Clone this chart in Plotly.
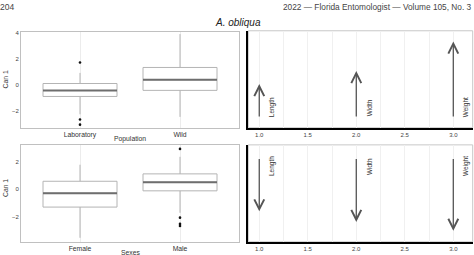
import plotly.graph_objects as go

# ---------------- data ----------------
pop_cats = ["Laboratory", "Wild"]
pop_q1 = [-0.92, -0.45]
pop_median = [-0.46, 0.37]
pop_q3 = [0.08, 1.32]
pop_low = [-2.3, -2.5]
pop_high = [0.9, 3.9]
pop_out_x = ["Laboratory", "Laboratory", "Laboratory"]
pop_out_y = [1.7, -2.7, -3.1]

sex_cats = ["Female", "Male"]
sex_q1 = [-1.29, -0.12]
sex_median = [-0.29, 0.5]
sex_q3 = [0.57, 1.1]
sex_low = [-3.5, -1.7]
sex_high = [1.76, 2.33]
sex_out_x = ["Male", "Male", "Male", "Male"]
sex_out_y = [2.9, -2.05, -2.5, -2.65]

vars_names = ["Length", "Width", "Weight"]
vars_x = [1.0, 2.0, 3.0]
pop_coef = [0.35, 0.485, 0.79]
sex_coef = [-0.556, -0.665, -0.757]

FONT = "Liberation Sans, Arial, sans-serif"
BOXLINE = "#b4b4b4"
MEDLINE = "#6e6e6e"

fig = go.Figure()


def add_box(cats, q1, med, q3, lo, hi, ox, oy, xa, ya):
    fig.add_trace(go.Box(x=cats, q1=q1, median=med, q3=q3, lowerfence=lo,
                         upperfence=hi, fillcolor="white",
                         line=dict(color=BOXLINE, width=1), width=0.74,
                         boxpoints=False, whiskerwidth=0, xaxis=xa, yaxis=ya,
                         showlegend=False, hoverinfo="skip"))
    fig.add_trace(go.Box(x=cats, q1=med, median=med, q3=med, lowerfence=med,
                         upperfence=med, fillcolor="rgba(0,0,0,0)",
                         line=dict(color=MEDLINE, width=2), width=0.74,
                         boxpoints=False, whiskerwidth=0, xaxis=xa, yaxis=ya,
                         showlegend=False, hoverinfo="skip"))
    fig.add_trace(go.Scatter(x=ox, y=oy, mode="markers",
                             marker=dict(color="#111", size=2.6),
                             xaxis=xa, yaxis=ya, showlegend=False,
                             hoverinfo="skip"))


add_box(pop_cats, pop_q1, pop_median, pop_q3, pop_low, pop_high,
        pop_out_x, pop_out_y, "x", "y")
add_box(sex_cats, sex_q1, sex_median, sex_q3, sex_low, sex_high,
        sex_out_x, sex_out_y, "x3", "y3")

# invisible traces to anchor the right-hand axes
fig.add_trace(go.Scatter(x=vars_x, y=[0, 0, 0], mode="markers",
                         marker=dict(opacity=0), xaxis="x2", yaxis="y2",
                         showlegend=False, hoverinfo="skip"))
fig.add_trace(go.Scatter(x=vars_x, y=[0, 0, 0], mode="markers",
                         marker=dict(opacity=0), xaxis="x4", yaxis="y4",
                         showlegend=False, hoverinfo="skip"))

annotations = []
for xa, ya, coefs, ly in (("x2", "y2", pop_coef, 0.11),
                          ("x4", "y4", sex_coef, -0.09)):
    for name, xv, c in zip(vars_names, vars_x, coefs):
        annotations.append(dict(x=xv, y=c, ax=xv, ay=0, xref=xa, yref=ya,
                                axref=xa, ayref=ya, text="", showarrow=True,
                                arrowhead=5, arrowsize=1.5, arrowwidth=1.3,
                                arrowcolor="#555"))
        annotations.append(dict(x=xv + 0.13, y=ly, xref=xa, yref=ya,
                                xanchor="center", yanchor="middle",
                                text=name, showarrow=False, textangle=-90,
                                font=dict(size=6.5, color="#333", family=FONT)))

lab_font = dict(size=6.8, color="#333", family=FONT)


def pann(x, y, text, font, xanchor="center", angle=0):
    return dict(x=x / 474, y=1 - y / 255, xref="paper", yref="paper",
                xanchor=xanchor, yanchor="middle", text=text,
                showarrow=False, font=font, textangle=angle)


annotations += [
    pann(130, 138, "Population", lab_font),
    pann(130, 252, "Sexes", lab_font),
    pann(5.5, 78.5, "Can 1", lab_font, angle=-90),
    pann(5.5, 188, "Can 1", lab_font, angle=-90),
    pann(238, 20.5, "<i>A. obliqua</i>",
         dict(size=10, color="#222", family=FONT)),
    pann(-2, 5, "204", dict(size=8.5, color="#444", family=FONT),
         xanchor="left"),
    pann(474, 5, "2022 — Florida Entomologist — Volume 105, No. 3",
         dict(size=8.3, color="#444", family=FONT), xanchor="right"),
]

shapes = []
for xr, yr in (("x2 domain", "y2 domain"), ("x4 domain", "y4 domain")):
    shapes.append(dict(type="rect", xref=xr, yref=yr, x0=0, x1=1, y0=0, y1=1,
                       line=dict(color="#c8c8c8", width=1), layer="below"))

tick_font = dict(size=6, color="#444", family=FONT)
left_x = dict(type="category", range=[-0.59, 1.59], showline=True,
              mirror=True, linecolor="#c0c0c0", linewidth=1, showgrid=True,
              gridcolor="#ececec", ticks="", zeroline=False,
              tickfont=dict(size=6.8, color="#333", family=FONT))
left_y = dict(showline=True, mirror=True, linecolor="#c0c0c0", linewidth=1,
              showgrid=False, zeroline=False, ticks="", tickfont=tick_font,
              dtick=2)
right_x = dict(range=[0.887, 3.2], tick0=1, dtick=0.5, showline=True,
               linecolor="black", linewidth=2, showgrid=True,
               gridcolor="#f0f0f0", ticks="",
               zeroline=False, tickformat=".1f", tickfont=tick_font,
               minor=dict(dtick=0.25, showgrid=True, gridcolor="#f0f0f0"))
right_y = dict(showline=True, linecolor="black", linewidth=2,
               showticklabels=False, showgrid=False, zeroline=False,
               ticks="")

fig.update_layout(
    width=474, height=255, margin=dict(l=0, r=0, t=0, b=0),
    paper_bgcolor="white", plot_bgcolor="white",
    font=dict(family=FONT), boxmode="overlay",
    xaxis=dict(left_x, domain=[21 / 474, 239 / 474], anchor="y"),
    yaxis=dict(left_y, domain=[1 - 127 / 255, 1 - 30 / 255],
               range=[-3.36, 4.08], anchor="x"),
    xaxis3=dict(left_x, domain=[21 / 474, 239 / 474], anchor="y3"),
    yaxis3=dict(left_y, domain=[1 - 241.7 / 255, 1 - 144 / 255],
                range=[-3.79, 3.19], anchor="x3"),
    xaxis2=dict(right_x, domain=[248.3 / 474, 472.7 / 474], anchor="y2"),
    yaxis2=dict(right_y, domain=[1 - 126.7 / 255, 1 - 29 / 255],
                range=[-0.1, 0.9], anchor="x2"),
    xaxis4=dict(right_x, domain=[248.3 / 474, 472.7 / 474], anchor="y4"),
    yaxis4=dict(right_y, domain=[1 - 241.7 / 255, 1 - 144 / 255],
                range=[-0.87, 0.13], anchor="x4"),
    annotations=annotations, shapes=shapes,
)

fig.write_html("out.html")
